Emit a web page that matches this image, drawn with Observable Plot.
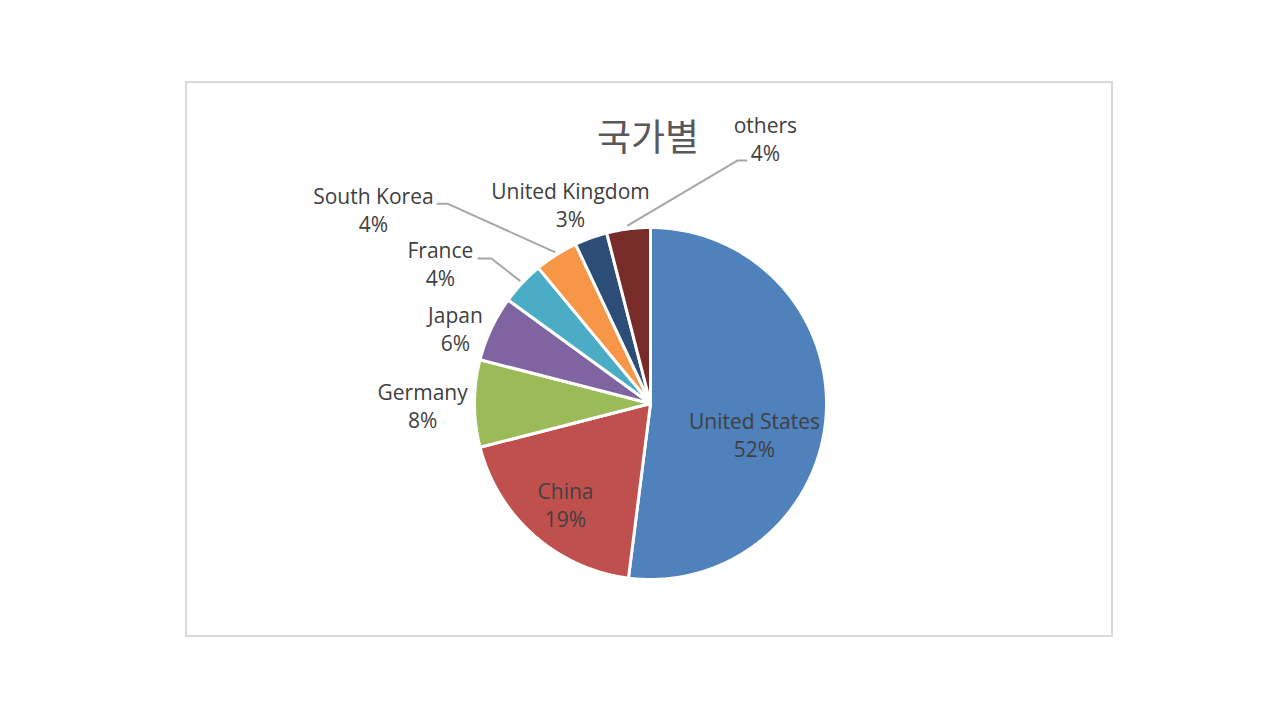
<!DOCTYPE html>
<html><head><meta charset="utf-8">
<script src="https://cdn.jsdelivr.net/npm/d3@7"></script>
<script src="https://cdn.jsdelivr.net/npm/@observablehq/plot@0.6"></script>
<style>
html,body{margin:0;padding:0;background:#fff;width:1280px;height:720px;overflow:hidden}
#box{position:absolute;left:185px;top:81px;width:924px;height:552px;border:2px solid #D9D9D9}
#title{position:absolute;left:548px;width:200px;top:113px;text-align:center;font-family:"Noto Sans CJK KR";font-size:37px;line-height:44px;color:#595959}
#chart{position:absolute;left:0;top:0}
</style></head><body>
<div id="box"></div>
<div id="title"></div>
<div id="chart"></div>
<script>
// ---- data ----
const chartTitle = "국가별";
const countries = ["United States", "China", "Germany", "Japan", "France", "South Korea", "United Kingdom", "others"];
const shares = [52, 19, 8, 6, 4, 4, 3, 4];
const palette = ["#4F81BD", "#C0504D", "#9BBB59", "#8064A2", "#4BACC6", "#F79646", "#2C4D75", "#772C2A"];

// ---- layout (label placement in polar form, angle in degrees clockwise from 12 o'clock, distance in radii) ----
const labelPlacement = {
  "United States": [107.4, 0.619],
  "China": [219.5, 0.759],
  "Germany": [268.9, 1.295],
  "Japan": [290.5, 1.183],
  "France": [303.3, 1.428],
  "South Korea": [304.7, 1.915],
  "United Kingdom": [337.9, 1.208],
  "others": [23.6, 1.630]
};
// leader lines: offset (px) from label centre to outer end, horizontal run (px) toward the pie
const leaderPlacement = {
  "South Korea": [64, -8, 10],
  "France": [38, -7, 13],
  "others": [-19, 20, -9]
};

document.getElementById("title").textContent = chartTitle;

const W = 1280, H = 720, CX = 650, CY = 403, R = 176;
const px = R; // pixels per radius unit

const arcs = d3.pie().sort(null).value(d => d)(shares);
const total = d3.sum(shares);

const slicePts = [];
arcs.forEach((a, i) => {
  const n = Math.max(4, Math.ceil((a.endAngle - a.startAngle) / (Math.PI / 360)));
  slicePts.push({country: countries[i], x: 0, y: 0});
  for (let k = 0; k <= n; k++) {
    const t = a.startAngle + (a.endAngle - a.startAngle) * k / n;
    slicePts.push({country: countries[i], x: Math.sin(t), y: Math.cos(t)});
  }
});

const labels = countries.map((c, i) => {
  const [deg, dist] = labelPlacement[c];
  const t = deg * Math.PI / 180;
  return {country: c, x: dist * Math.sin(t), y: dist * Math.cos(t),
          text: c + "\n" + Math.round(shares[i] / total * 100) + "%"};
});

const leaders = [];
countries.forEach((c, i) => {
  const lp = leaderPlacement[c];
  if (!lp) return;
  const lab = labels[i];
  const mid = (arcs[i].startAngle + arcs[i].endAngle) / 2;
  const x2 = lab.x + lp[0] / px, y2 = lab.y - lp[1] / px;
  const x1 = x2 + lp[2] / px, y1 = y2;
  leaders.push({country: c, x: 1.02 * Math.sin(mid), y: 1.02 * Math.cos(mid)});
  leaders.push({country: c, x: x1, y: y1});
  leaders.push({country: c, x: x2, y: y2});
});

const chart = Plot.plot({
  width: W, height: H, margin: 0,
  x: {domain: [-CX / px, (W - CX) / px], axis: null},
  y: {domain: [-(H - CY) / px, CY / px], axis: null},
  color: {domain: countries, range: palette},
  style: {background: "transparent", overflow: "visible"},
  marks: [
    Plot.line(slicePts, {x: "x", y: "y", z: "country", fill: "country", stroke: "white", strokeWidth: 3, strokeLinejoin: "round", curve: "linear-closed"}),
    Plot.line(leaders, {x: "x", y: "y", z: "country", stroke: "#A6A6A6", strokeWidth: 2, curve: "linear"}),
    Plot.text(labels, {x: "x", y: "y", text: "text", fontSize: 21, lineHeight: 1.333, dy: -2.5, fill: "#404040", fontFamily: "Open Sans", textAnchor: "middle"})
  ]
});
document.getElementById("chart").appendChild(chart);
</script>
</body></html>
